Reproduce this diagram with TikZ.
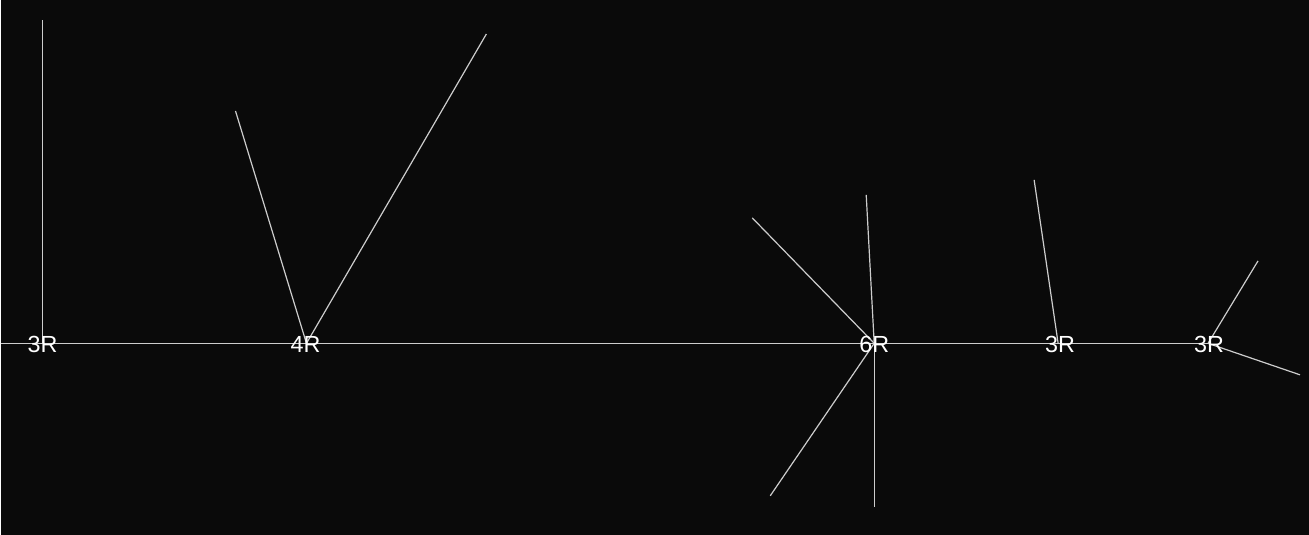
\documentclass[tikz,border=0pt]{standalone}
\usepackage{fontspec}
\setmainfont{Liberation Sans}
\definecolor{bgdark}{RGB}{10,10,10}
\definecolor{linegrey}{RGB}{205,205,205}
\tikzset{every picture/.style={line width=0.75pt}}
\tikzset{
  ring/.style={text=white, inner sep=0pt, font=\fontsize{17.5}{20}\selectfont},
  bond/.style={color=linegrey, line width=0.9}
}

\begin{document}
\begin{tikzpicture}[x=0.75pt,y=0.75pt,yscale=-1,xscale=1]
%Shape: Rectangle [id:background]
\path [fill=bgdark] (0,0) rectangle (1309,535);

% Free ends
\coordinate (left) at (0,343.5);
\coordinate (aUp) at (42,20);
\coordinate (bUpL) at (235,111);
\coordinate (bUpR) at (486,34);
\coordinate (cUpL) at (752,218);
\coordinate (cUp) at (866,195);
\coordinate (cDnL) at (770,496);
\coordinate (cDn) at (874,507);
\coordinate (dUp) at (1034,180);
\coordinate (eUp) at (1258,261);
\coordinate (eDn) at (1300,375);

% Label positions
\coordinate (a) at (42,343.5);
\coordinate (b) at (306,343.5);
\coordinate (c) at (874,343.5);
\coordinate (d) at (1058,343.5);
\coordinate (e) at (1208,343.5);

%Straight Lines [id:chain]
\draw [bond] (left) -- (a) -- (b) -- (c) -- (d) -- (e) ;
%Straight Lines [id:branches]
\draw [bond] (a) -- (aUp) ;
\draw [bond] (b) -- (bUpL) ;
\draw [bond] (b) -- (bUpR) ;
\draw [bond] (c) -- (cUpL) ;
\draw [bond] (c) -- (cUp) ;
\draw [bond] (c) -- (cDnL) ;
\draw [bond] (c) -- (cDn) ;
\draw [bond] (d) -- (dUp) ;
\draw [bond] (e) -- (eUp) ;
\draw [bond] (e) -- (eDn) ;

% Text Node
\node [ring] (ra) at (42,345) {3R};
% Text Node
\node [ring] (rb) at (305,345) {4R};
% Text Node
\node [ring] (rc) at (874,345) {6R};
% Text Node
\node [ring] (rd) at (1060,345) {3R};
% Text Node
\node [ring] (re) at (1209,345) {3R};

\end{tikzpicture}
\end{document}
